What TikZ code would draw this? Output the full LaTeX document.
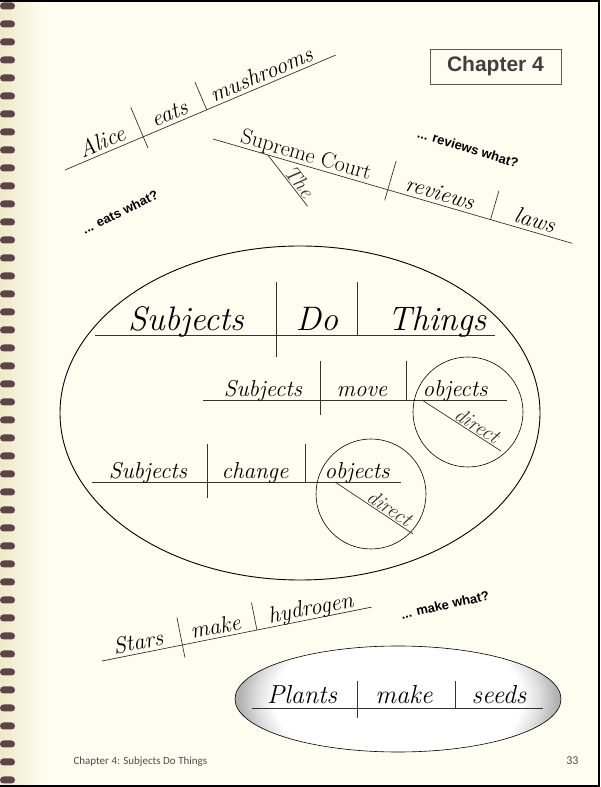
\documentclass[tikz,border=0pt]{standalone}
\usepackage{fontspec}
\newfontfamily\asksans{Liberation Sans}
\newfontfamily\footsans{Carlito}
\definecolor{paper}{RGB}{254,254,240}
\definecolor{paperedge}{RGB}{240,233,203}
\definecolor{coil}{RGB}{92,68,72}
\pgfdeclareradialshading{plantglow}{\pgfpoint{0bp}{0bp}}{color(0bp)=(white); color(18bp)=(white); color(20.5bp)=(gray!25); color(23bp)=(gray!60); color(25bp)=(gray!75); color(50bp)=(gray!75)}
\begin{document}
\begin{tikzpicture}[x=1pt, y=1pt,
    word/.style = {anchor=base, inner sep=0pt, font=\fontsize{23}{26}\selectfont\itshape},
    big/.style = {word, font=\fontsize{34}{38}\selectfont\itshape},
    wide/.style = {word, font=\fontsize{26}{29}\selectfont\itshape},
    slant/.style = {sloped, above, inner sep=1pt, font=\fontsize{21}{24}\selectfont\itshape},
    ask/.style = {font=\asksans\bfseries\fontsize{13}{15}\selectfont},
    bar/.style = {line width=0.7pt, black!80}]
  % page and binding
  \fill[paper] (0,0) rectangle (600,787);
  \useasboundingbox (0,0) rectangle (600,787);
  \shade[left color=paperedge, right color=paper] (0,0) rectangle (45,787);
  \foreach \k in {0,...,43}
    \fill[coil, rounded corners=3.5pt] (0,777.5-18*\k) rectangle (15,784.5-18*\k);
  \draw[line width=2pt] (0,786) -- (599,786) -- (599,1) -- (0,1);

  \node[draw=black!65, line width=0.8pt, minimum width=131pt, minimum height=35pt,
    font=\asksans\bfseries\fontsize{21}{24}\selectfont, text=black!75] (chap) at (495.5,720.5) {Chapter 4};

  % Alice eats mushrooms
  \begin{scope}[shift={(65,617)}, rotate=23, transform shape]
    \draw[bar] (0,0) -- (294,0);
    \draw[bar] (85,-12) -- (85,32);
    \draw[bar] (154,0) -- (154,30);
    \node[word] (alice) at (45,4) {Alice};
    \node[word] (eats) at (118,4) {eats};
    \node[word] (mush) at (218,4) {mushrooms};
  \end{scope}
  \node[ask, rotate=26] (askeats) at (120,575) {... eats what?};

  % The Supreme Court reviews laws
  \begin{scope}[shift={(213,648)}, rotate=-16.2, transform shape]
    \draw[bar] (0,0) -- (374,0);
    \draw[bar] (182,-11) -- (182,30);
    \draw[bar] (289,0) -- (289,30);
    \draw[bar] (57,0) -- ++(-36:65) node[slant, pos=0.62] (the) {The};
    \node[word, font=\fontsize{22}{25}\selectfont\upshape] (court) at (94,4) {Supreme Court};
    \node[word] (reviews) at (233,4) {reviews};
    \node[word] (laws) at (332,4) {laws};
  \end{scope}
  \node[ask, rotate=-17] (askrev) at (468,639) {... reviews what?};

  % big oval
  \draw[line width=0.9pt] (300,374) ellipse [x radius=240, y radius=167];
  \draw[bar] (95,452) -- (495,452);
  \draw[bar] (276,505) -- (276,430);
  \draw[bar] (357,505) -- (357,452);
  \node[big] (subj) at (186,456) {Subjects};
  \node[big] (do) at (317,456) {Do};
  \node[big] (things) at (437,456) {Things};

  \draw[bar] (203,387) -- (507,387);
  \draw[bar] (320,426) -- (320,372);
  \draw[bar] (406,426) -- (406,387);
  \node[word] (subjmove) at (263,390) {Subjects};
  \node[word] (move) at (362,390) {move};
  \node[word] (objmove) at (455,390) {objects};
  \draw[bar] (422,387) -- (501,336) node[slant, pos=0.64] (dirmove) {direct};
  \draw[line width=0.6pt] (468,375) circle [radius=55];

  \draw[bar] (92,305) -- (401,305);
  \draw[bar] (207,343) -- (207,289);
  \draw[bar] (305,343) -- (305,305);
  \node[word] (subjchange) at (148,308) {Subjects};
  \node[word] (change) at (255,308) {change};
  \node[word] (objchange) at (357,308) {objects};
  \draw[bar] (335,305) -- (413,253) node[slant, pos=0.64] (dirchange) {direct};
  \draw[line width=0.6pt] (371,293) circle [radius=55];

  % Stars make hydrogen
  \begin{scope}[shift={(102,126)}, rotate=11.3, transform shape]
    \draw[bar] (0,0) -- (275,0);
    \draw[bar] (82,-13) -- (82,28);
    \draw[bar] (158,0) -- (158,28);
    \node[word] (stars) at (39,4) {Stars};
    \node[word] (make) at (118,4) {make};
    \node[word] (hydro) at (215,4) {hydrogen};
  \end{scope}
  \node[ask, rotate=12.5] (askmake) at (445,182) {... make what?};

  % Plants make seeds
  \begin{scope}
    \clip (398,88) ellipse [x radius=163, y radius=53];
    \shade[shading=plantglow] (398,88) ellipse [x radius=172, y radius=100];
  \end{scope}
  \draw[line width=0.6pt] (398,88) ellipse [x radius=163, y radius=53];
  \draw[bar] (252,79) -- (543,79);
  \draw[bar] (357,106) -- (357,69);
  \draw[bar] (455,106) -- (455,79);
  \node[wide] (plants) at (302,83) {Plants};
  \node[wide] (makes) at (404,83) {make};
  \node[wide] (seeds) at (499,83) {seeds};

  % footer
  \node[font=\footsans\fontsize{11}{13}\selectfont, text=black!70, anchor=base west] (foot) at (70,23) {Chapter 4: Subjects Do Things};
  \node[font=\footsans\fontsize{12}{14}\selectfont, text=black!70, anchor=base east] (page) at (582,23) {33};
\end{tikzpicture}
\end{document}
